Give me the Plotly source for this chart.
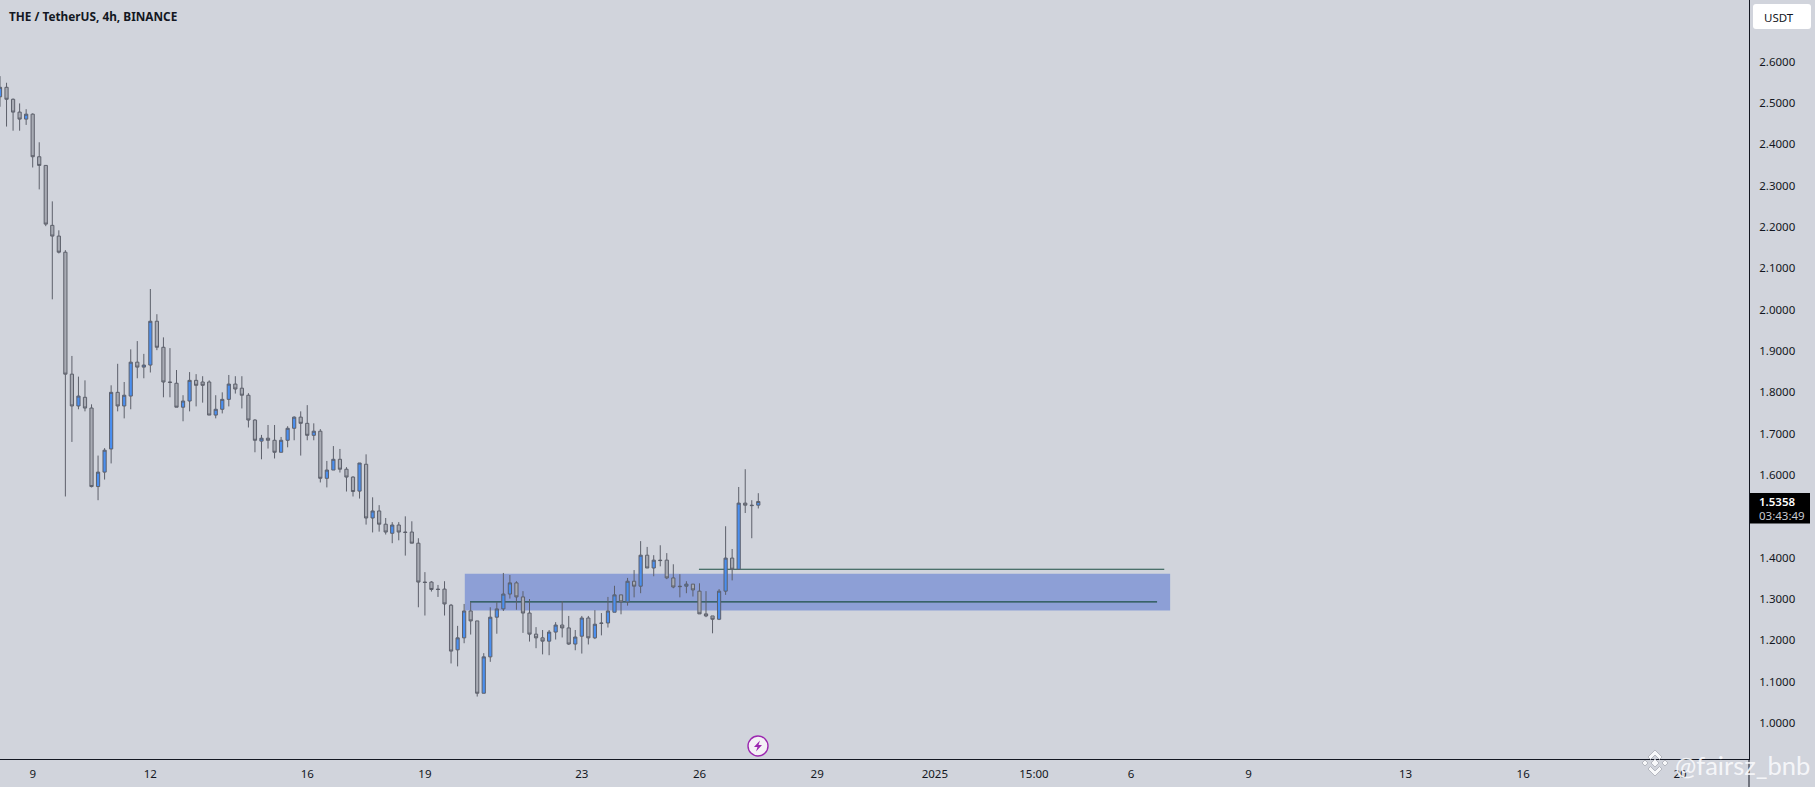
import pandas as pd
import plotly.graph_objects as go

# ---- Data -----------------------------------------------------------------
start_time = "2024-12-08 04:00"
bar_hours = 4

opens = [2.515,2.538,2.509,2.478,2.461,2.473,2.370,2.349,2.204,2.178,
         2.139,1.844,1.767,1.788,1.762,1.572,1.607,1.663,1.800,1.767,
         1.791,1.873,1.861,1.866,1.972,1.909,1.825,1.822,1.764,1.779,
         1.829,1.825,1.825,1.745,1.759,1.783,1.820,1.810,1.793,1.733,
         1.682,1.689,1.684,1.655,1.684,1.713,1.740,1.725,1.696,1.706,
         1.592,1.612,1.638,1.614,1.595,1.561,1.626,1.496,1.513,1.481,
         1.459,1.479,1.462,1.462,1.435,1.341,1.341,1.324,1.324,1.285,
         1.177,1.206,1.271,1.247,1.072,1.160,1.256,1.276,1.312,1.339,
         1.305,1.266,1.215,1.206,1.198,1.220,1.237,1.230,1.191,1.210,
         1.254,1.206,1.242,1.242,1.268,1.310,1.293,1.343,1.331,1.406,
         1.375,1.394,1.394,1.351,1.331,1.331,1.336,1.319,1.264,1.259,
         1.251,1.319,1.399,1.372,1.532,1.527,1.527]
highs = [2.565,2.549,2.511,2.499,2.485,2.475,2.405,2.349,2.262,2.192,
         2.144,1.888,1.838,1.829,1.771,1.647,1.665,1.817,1.869,1.825,
         1.904,1.924,1.893,2.050,1.989,1.933,1.907,1.854,1.793,1.849,
         1.844,1.839,1.829,1.793,1.800,1.842,1.839,1.839,1.798,1.735,
         1.697,1.721,1.721,1.692,1.718,1.742,1.754,1.769,1.725,1.711,
         1.634,1.670,1.663,1.619,1.597,1.629,1.650,1.546,1.527,1.496,
         1.486,1.486,1.500,1.488,1.447,1.365,1.343,1.334,1.343,1.288,
         1.235,1.288,1.293,1.247,1.169,1.280,1.293,1.363,1.358,1.343,
         1.319,1.300,1.232,1.225,1.225,1.244,1.295,1.259,1.225,1.259,
         1.259,1.273,1.266,1.305,1.332,1.310,1.351,1.370,1.440,1.426,
         1.406,1.430,1.411,1.384,1.360,1.343,1.336,1.338,1.319,1.259,
         1.324,1.476,1.421,1.571,1.614,1.539,1.556]
lows = [2.491,2.443,2.433,2.433,2.447,2.344,2.291,2.202,2.025,2.136,
        1.548,1.680,1.759,1.754,1.570,1.539,1.589,1.628,1.754,1.737,
        1.759,1.834,1.834,1.848,1.902,1.788,1.788,1.764,1.730,1.754,
        1.766,1.775,1.745,1.737,1.749,1.766,1.797,1.761,1.715,1.655,
        1.638,1.664,1.640,1.655,1.667,1.684,1.647,1.684,1.684,1.582,
        1.570,1.612,1.606,1.560,1.548,1.543,1.480,1.461,1.463,1.456,
        1.435,1.442,1.405,1.435,1.280,1.260,1.318,1.305,1.260,1.144,
        1.137,1.193,1.214,1.064,1.072,1.148,1.216,1.271,1.301,1.274,
        1.218,1.197,1.181,1.166,1.164,1.202,1.207,1.189,1.176,1.168,
        1.190,1.203,1.212,1.231,1.268,1.263,1.284,1.304,1.314,1.375,
        1.355,1.379,1.348,1.326,1.304,1.314,1.306,1.264,1.256,1.217,
        1.249,1.310,1.345,1.372,1.508,1.447,1.519]
closes = [2.538,2.509,2.478,2.461,2.473,2.370,2.349,2.207,2.178,2.139,
          1.844,1.767,1.791,1.762,1.572,1.607,1.660,1.800,1.767,1.793,
          1.873,1.861,1.866,1.972,1.909,1.825,1.824,1.764,1.779,1.829,
          1.817,1.817,1.745,1.759,1.783,1.820,1.808,1.793,1.733,1.684,
          1.689,1.684,1.655,1.684,1.713,1.740,1.725,1.696,1.706,1.592,
          1.612,1.638,1.614,1.595,1.560,1.629,1.496,1.513,1.481,1.462,
          1.479,1.462,1.461,1.435,1.341,1.340,1.323,1.323,1.288,1.174,
          1.206,1.271,1.247,1.072,1.160,1.256,1.276,1.312,1.339,1.305,
          1.266,1.215,1.206,1.198,1.220,1.237,1.230,1.191,1.208,1.254,
          1.206,1.239,1.241,1.271,1.310,1.293,1.343,1.331,1.406,1.375,
          1.394,1.393,1.351,1.329,1.330,1.336,1.322,1.264,1.259,1.251,
          1.319,1.399,1.372,1.532,1.527,1.526,1.5358]

zone_top, zone_bottom = 1.361, 1.272
zone_start, zone_end = "2024-12-20 00:24", "2025-01-07 00:00"
upper_level, upper_start, upper_end = 1.372, "2024-12-25 23:40", "2025-01-06 20:24"
lower_level, lower_start, lower_end = 1.293, "2024-12-20 03:36", "2025-01-06 16:00"

y_ticks = [1.0,1.1,1.2,1.3,1.4,1.6,1.7,1.8,1.9,2.0,2.1,2.2,2.3,2.4,2.5,2.6]
x_tick_dates = ["2024-12-09","2024-12-12","2024-12-16","2024-12-19","2024-12-23",
                "2024-12-26","2024-12-29","2025-01-01","2025-01-03 12:40","2025-01-06",
                "2025-01-09","2025-01-13","2025-01-16","2025-01-20"]
x_tick_labels = ["9","12","16","19","23","26","29","2025","15:00","6","9","13","16","20"]

title_text = "THE / TetherUS, 4h, BINANCE"
last_price = "1.5358"
countdown = "03:43:49"
currency = "USDT"
watermark = "@fairsz_bnb"

# ---- Style ------------------------------------------------------------------
BG = "#d1d4dc"
INK = "#131722"
BORDER = "#5d606b"
GREY = "#a8abb4"
BLUE = "#4a8ff0"
ZONE = "#8d9fd6"
LEVEL = "#1e4f45"
FONT = "Noto Sans"

W, H = 1815, 787
PW, PH = 1749, 759


def fx(x):
    return x / PW


def fy(y):
    return (PH - y) / PH


def path(points):
    return "M " + " L ".join(f"{fx(x):.5f},{fy(y):.5f}" for x, y in points) + " Z"


times = pd.date_range(start_time, periods=len(opens), freq=f"{bar_hours}h")

fig = go.Figure(go.Candlestick(
    x=times, open=opens, high=highs, low=lows, close=closes,
    increasing=dict(line=dict(color=BORDER, width=1), fillcolor=BLUE),
    decreasing=dict(line=dict(color=BORDER, width=1), fillcolor=GREY),
    whiskerwidth=0, hoverinfo="skip", showlegend=False,
))

shapes = [
    dict(type="rect", xref="x", yref="y", x0=zone_start, x1=zone_end, y0=zone_bottom, y1=zone_top,
         fillcolor=ZONE, line=dict(width=0), layer="below"),
    dict(type="line", xref="x", yref="y", x0=lower_start, x1=lower_end, y0=lower_level, y1=lower_level,
         line=dict(color=LEVEL, width=1.2), layer="below"),
    dict(type="line", xref="x", yref="y", x0=upper_start, x1=upper_end, y0=upper_level, y1=upper_level,
         line=dict(color=LEVEL, width=1.2), layer="below"),
    # axis extension, price-label box, currency button
    dict(type="line", xref="paper", yref="paper", x0=1, x1=1, y0=fy(PH), y1=fy(H),
         line=dict(color=INK, width=1)),
    dict(type="rect", xref="paper", yref="paper", x0=fx(1750), x1=fx(1810), y0=fy(493), y1=fy(523.5),
         fillcolor="#000000", line=dict(width=0)),
    dict(type="path", xref="paper", yref="paper",
         path=f"M {fx(1756):.5f},{fy(4):.5f} L {fx(1808):.5f},{fy(4):.5f} "
              f"Q {fx(1811):.5f},{fy(4):.5f} {fx(1811):.5f},{fy(7):.5f} L {fx(1811):.5f},{fy(26):.5f} "
              f"Q {fx(1811):.5f},{fy(29):.5f} {fx(1808):.5f},{fy(29):.5f} L {fx(1756):.5f},{fy(29):.5f} "
              f"Q {fx(1753):.5f},{fy(29):.5f} {fx(1753):.5f},{fy(26):.5f} L {fx(1753):.5f},{fy(7):.5f} "
              f"Q {fx(1753):.5f},{fy(4):.5f} {fx(1756):.5f},{fy(4):.5f} Z",
         fillcolor="#ffffff", line=dict(width=0)),
    # lightning badge
    dict(type="circle", xref="paper", yref="paper", x0=fx(748), x1=fx(768), y0=fy(756), y1=fy(736),
         fillcolor="#f4f0f6", line=dict(color="#9c27b0", width=1.4)),
    dict(type="path", xref="paper", yref="paper",
         path=path([(760, 740.5), (754, 747), (757.5, 747), (756, 751.5), (762, 745), (758.5, 745)]),
         fillcolor="#9c27b0", line=dict(width=0)),
]

# Binance-style logo of the watermark
cx, cy = 1655, 763
LOGO_LINE = dict(color="#a9acb5", width=0.8)
shapes.append(dict(type="path", xref="paper", yref="paper", fillcolor="#f7f8fa", line=LOGO_LINE,
                   path=path([(cx, cy - 4), (cx + 4, cy), (cx, cy + 4), (cx - 4, cy)])))
for dx in (-10, 10):
    shapes.append(dict(type="path", xref="paper", yref="paper", fillcolor="#f7f8fa", line=LOGO_LINE,
                       path=path([(cx + dx, cy - 3), (cx + dx + 3, cy), (cx + dx, cy + 3), (cx + dx - 3, cy)])))
for sign in (-1, 1):
    shapes.append(dict(type="path", xref="paper", yref="paper", fillcolor="#f7f8fa", line=LOGO_LINE,
                       path=path([(cx - 7, cy + sign * 6), (cx, cy + sign * 13), (cx + 7, cy + sign * 6),
                                  (cx + 4.5, cy + sign * 3.5), (cx, cy + sign * 8), (cx - 4.5, cy + sign * 3.5)])))

annotations = [
    dict(text=f"<b>{title_text}</b>", xref="paper", yref="paper", x=fx(7), y=fy(16), xanchor="left", yanchor="middle",
         showarrow=False, font=dict(family=FONT, size=11.8, color=INK)),
    dict(text=currency, xref="paper", yref="paper", x=fx(1762), y=fy(17), xanchor="left", yanchor="middle",
         showarrow=False, font=dict(family=FONT, size=11.5, color=INK)),
    dict(text=last_price, xref="paper", yref="paper", x=fx(1757), y=fy(501.5), xanchor="left", yanchor="middle",
         showarrow=False, font=dict(family=FONT, size=11.5, color="#ffffff", weight=600)),
    dict(text=countdown, xref="paper", yref="paper", x=fx(1757), y=fy(515.5), xanchor="left", yanchor="middle",
         showarrow=False, font=dict(family=FONT, size=11.5, color="#c8cad0")),
    dict(text=watermark, xref="paper", yref="paper", x=fx(1673), y=fy(765), xanchor="left", yanchor="middle",
         showarrow=False, font=dict(family="Lato", size=25.5, color="rgba(250,250,252,0.9)")),
]

fig.update_layout(
    width=W, height=H, autosize=False,
    margin=dict(l=0, r=W - PW, t=0, b=H - PH, pad=0),
    paper_bgcolor=BG, plot_bgcolor=BG,
    font=dict(family=FONT, size=11.5, color=INK),
    showlegend=False, hovermode=False, dragmode=False, boxgap=0.3,
    shapes=shapes, annotations=annotations,
    xaxis=dict(
        type="date",
        range=["2024-12-08 04:00", "2025-01-21 18:12"],
        rangeslider=dict(visible=False),
        tickmode="array", tickvals=x_tick_dates, ticktext=x_tick_labels,
        showgrid=False, zeroline=False,
        showline=True, linecolor=INK, linewidth=1,
        ticks="outside", ticklen=4, tickcolor="rgba(0,0,0,0)", tickangle=0,
        tickfont=dict(family=FONT, size=11.5, color=INK),
    ),
    yaxis=dict(
        side="right",
        range=[0.9129, 2.7492],
        tickmode="array", tickvals=y_ticks, ticktext=[f"{v:.4f}" for v in y_ticks],
        showgrid=False, zeroline=False,
        showline=True, linecolor=INK, linewidth=1,
        ticks="outside", ticklen=7, tickcolor="rgba(0,0,0,0)",
        tickfont=dict(family=FONT, size=11.5, color=INK),
    ),
)

fig.write_html(
    "out.html",
    config=dict(displayModeBar=False, staticPlot=True),
    post_script="document.body.style.margin='0';document.body.style.overflow='hidden';",
)
